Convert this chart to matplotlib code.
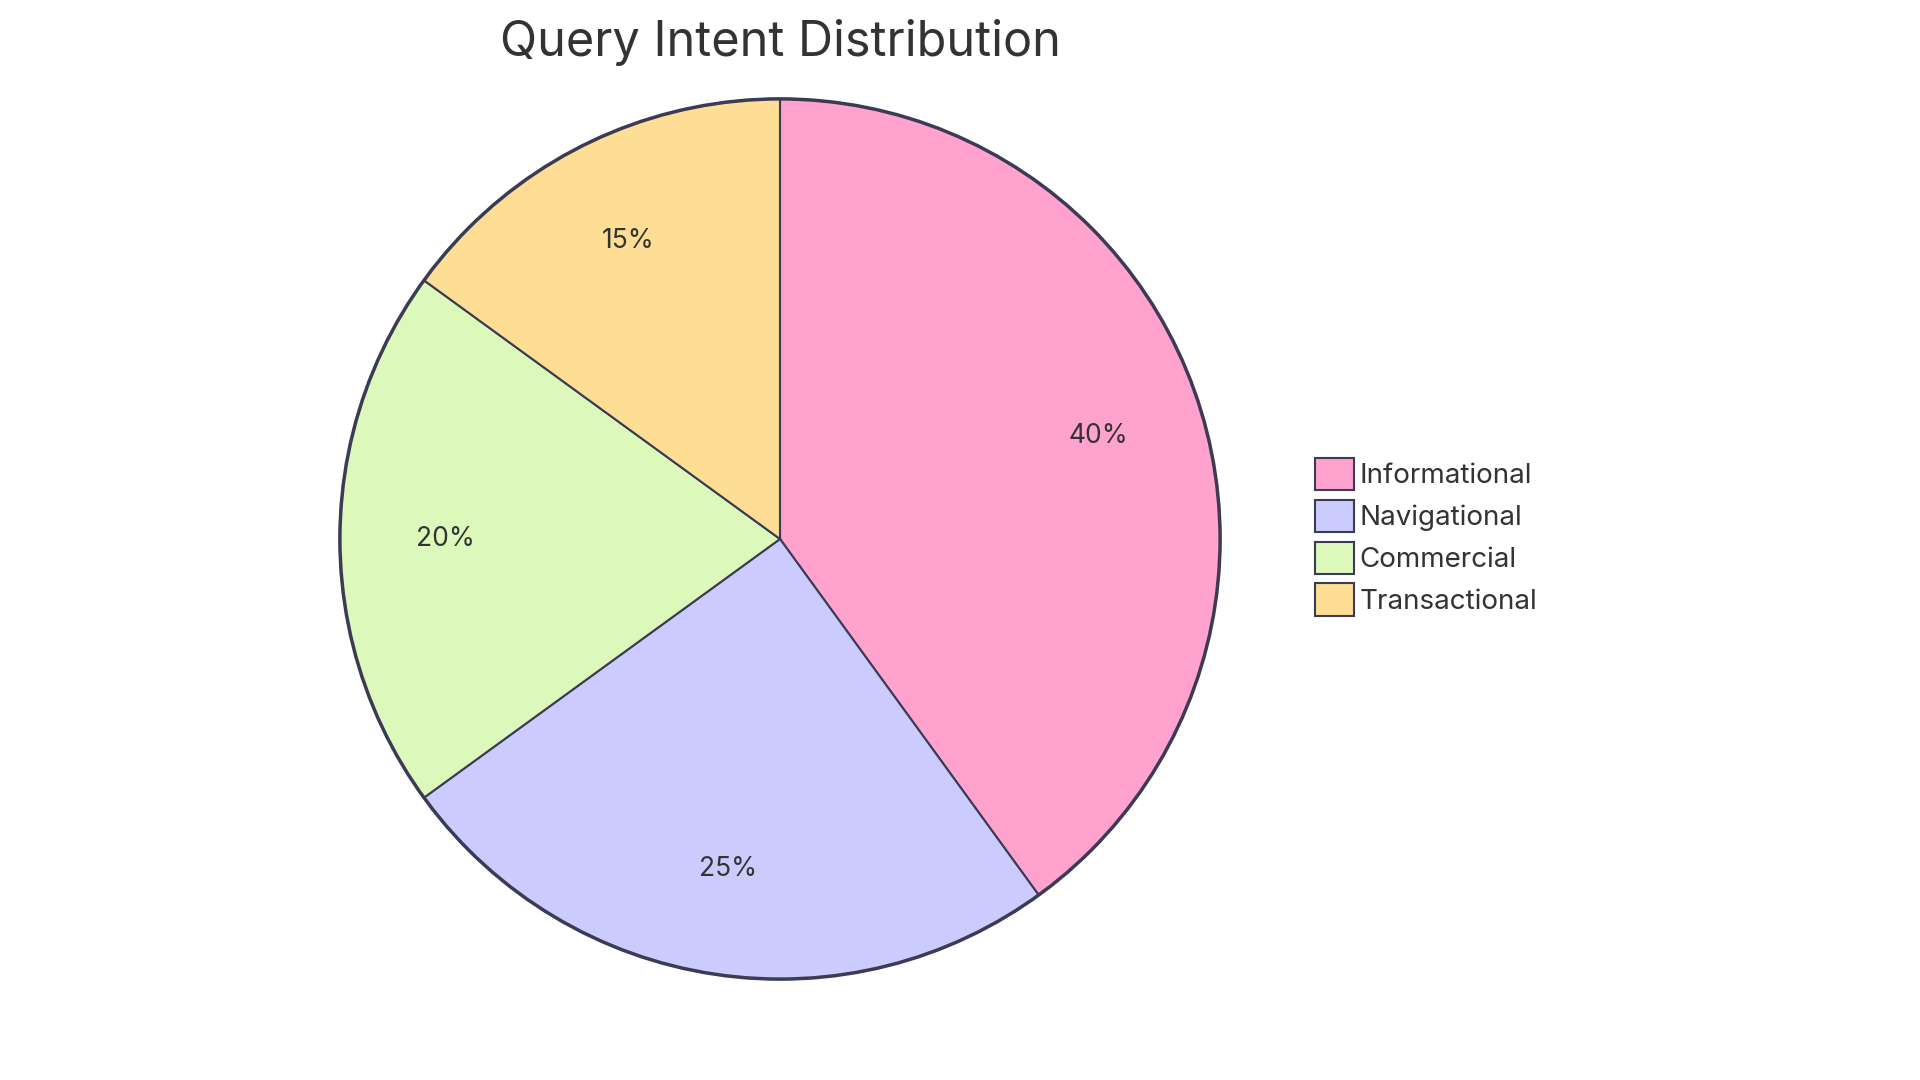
import matplotlib
matplotlib.use("Agg")
import matplotlib.pyplot as plt

categories = ["Informational", "Navigational", "Commercial", "Transactional"]
values = [40, 25, 20, 15]
colors = ["#ffa3ce", "#cbcbfe", "#dcf9bb", "#fedd94"]

plt.rcParams['font.family'] = ['Inter', 'DejaVu Sans']
fig = plt.figure(figsize=(19.2, 10.8), dpi=100)
r = 444.5
cx, cy = 780, 541
ax = fig.add_axes([(cx - r) / 1920, (cy - r) / 1080, 2 * r / 1920, 2 * r / 1080])
wedges, texts, autotexts = ax.pie(values, colors=colors, startangle=90, counterclock=False,
       autopct='%1.0f%%', pctdistance=0.76,
       wedgeprops=dict(edgecolor="#3b3b55", linewidth=1.5),
       textprops=dict(fontsize=19, color="#333333"))
ax.add_patch(plt.Circle((0, 0), 1, fill=False, edgecolor="#3b3b55", linewidth=2.5))
ax.set_xlim(-1.01, 1.01); ax.set_ylim(-1.01, 1.01)
ax.set_aspect('equal')
fig.text(780 / 1920, 1 - 42 / 1080, "Query Intent Distribution", ha='center', va='center',
         fontsize=35, color="#333333")
fig.legend(wedges, categories, loc='center left', bbox_to_anchor=(0.672, 0.503),
           frameon=False, fontsize=20, handlelength=1.4, handleheight=1.4,
           handletextpad=0.2, labelspacing=0.35, labelcolor="#333333")
for w in wedges:
    pass
fig.savefig("out.png", dpi=100, facecolor="white")
